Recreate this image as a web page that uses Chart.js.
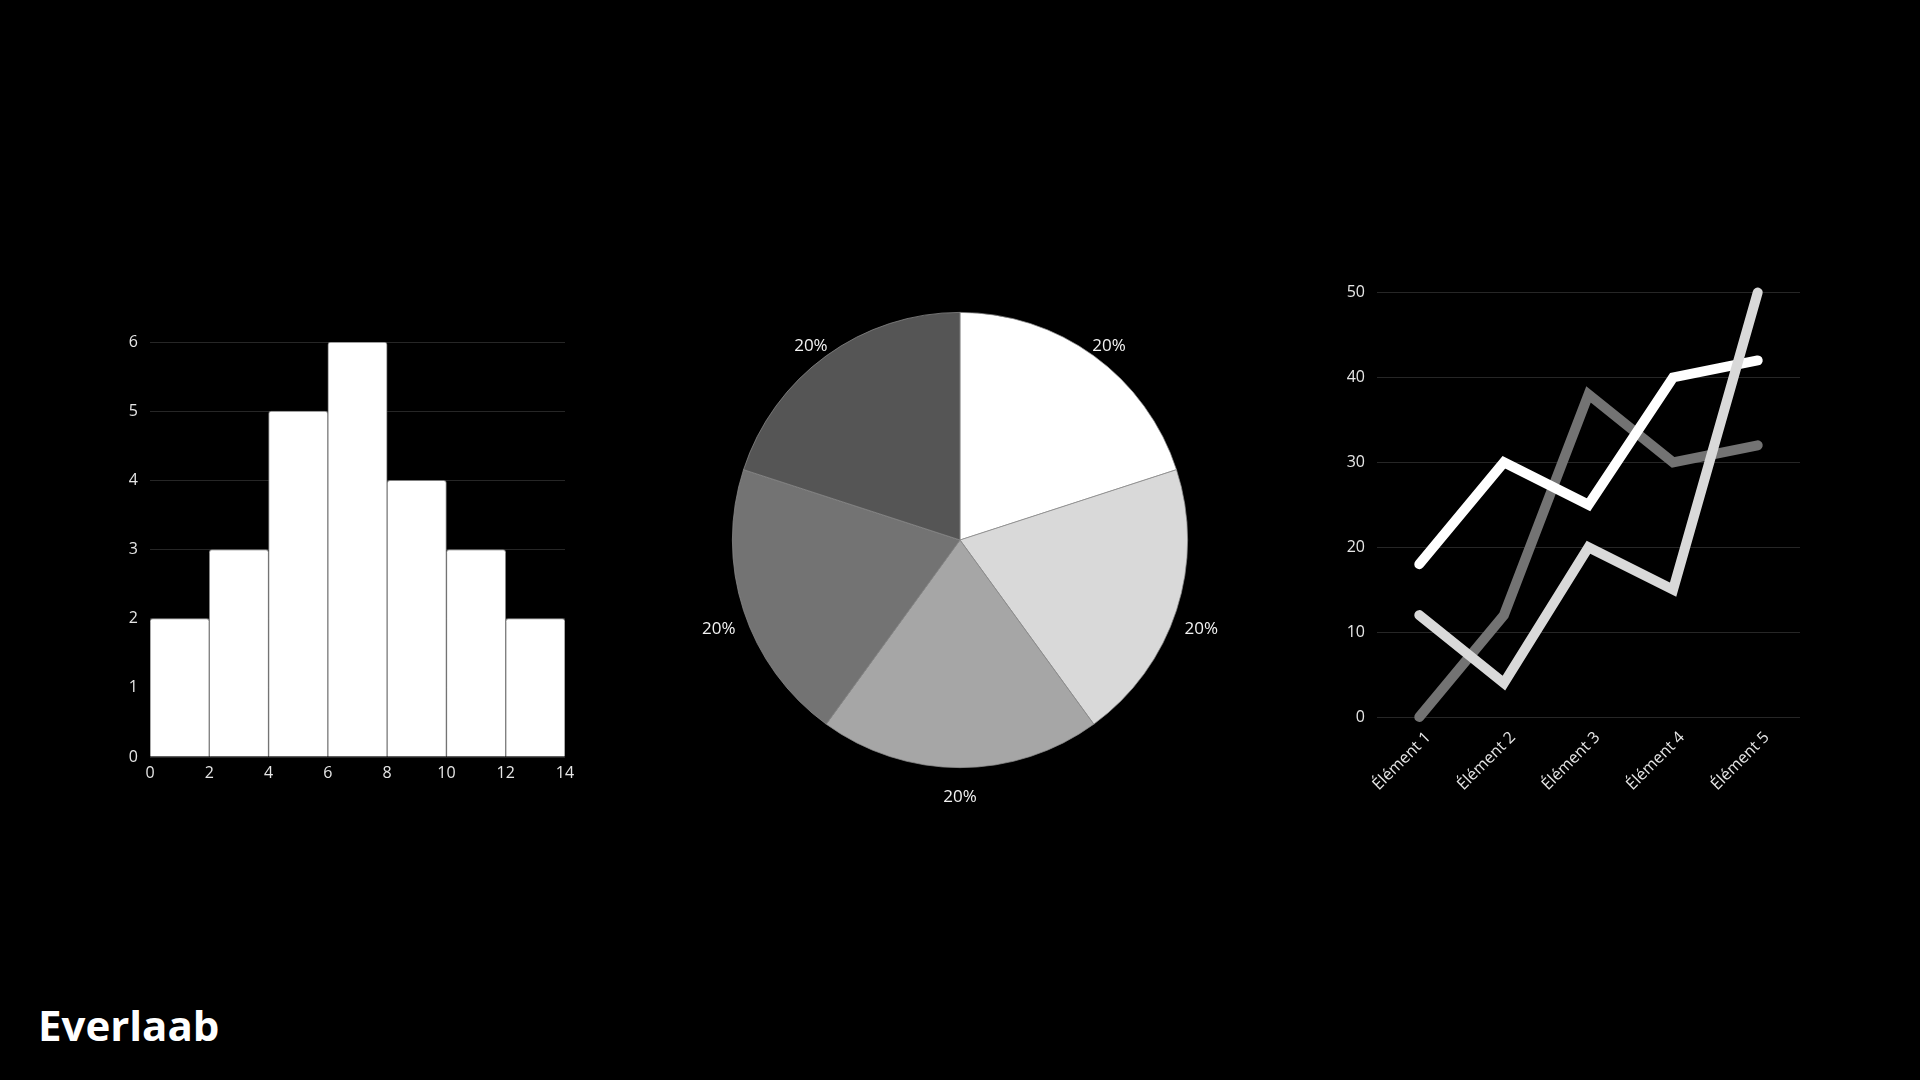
<!DOCTYPE html>
<html>
<head>
<meta charset="utf-8">
<script src="https://cdn.jsdelivr.net/npm/chart.js@4"></script>
<style>
  html, body { margin: 0; padding: 0; background: #000; }
  body { width: 1920px; height: 1080px; position: relative; overflow: hidden; font-family: "Open Sans", sans-serif; }
  .box { position: absolute; }
  #brand { position: absolute; left: 38px; top: 1004px; color: #fff; font-weight: 700; font-size: 42px; line-height: 42px; }
</style>
</head>
<body>
<div class="box" style="left:100px;top:320px;width:490px;height:490px"><canvas id="histo"></canvas></div>
<div class="box" style="left:680px;top:260px;width:560px;height:560px"><canvas id="pie"></canvas></div>
<div class="box" style="left:1320px;top:270px;width:500px;height:540px"><canvas id="lines"></canvas></div>
<div id="brand">Everlaab</div>
<script>
// histogram
const binEdges = [0, 2, 4, 6, 8, 10, 12, 14];
const binCounts = [2, 3, 5, 6, 4, 3, 2];

// pie
const pieLabels = ['A', 'B', 'C', 'D', 'E'];
const pieValues = [20, 20, 20, 20, 20];
const pieColors = ['#ffffff', '#d9d9d9', '#a6a6a6', '#737373', '#555555'];

// lines
const elements = ['Élément 1', 'Élément 2', 'Élément 3', 'Élément 4', 'Élément 5'];
const seriesWhite = [18, 30, 25, 40, 42];
const seriesLight = [12, 4, 20, 15, 50];
const seriesDark = [0, 12, 38, 30, 32];

Chart.defaults.font.family = '"Open Sans", sans-serif';
Chart.defaults.color = '#e6e6e6';
Chart.defaults.animation = false;
Chart.defaults.responsive = true;
Chart.defaults.maintainAspectRatio = false;
Chart.defaults.plugins.legend.display = false;
Chart.defaults.plugins.tooltip.enabled = false;

const gridCol = '#262626';

const histoPoints = binCounts.map((c, i) => ({ x: (binEdges[i] + binEdges[i + 1]) / 2, y: c }));

new Chart(document.getElementById('histo'), {
  type: 'bar',
  data: {
    datasets: [{
      data: histoPoints,
      backgroundColor: '#ffffff',
      borderColor: '#7f7f7f',
      borderWidth: 1,
      borderRadius: 3,
      barPercentage: 1,
      categoryPercentage: 1
    }]
  },
  options: {
    layout: { padding: { top: 22, right: 25, bottom: 0, left: 0 } },
    scales: {
      x: {
        type: 'linear', min: 0, max: 14, offset: false,
        ticks: { stepSize: 2, padding: 7, font: { size: 16 } },
        grid: { display: false, offset: false, drawTicks: false },
        border: { display: false },
        afterFit: (s) => { s.height = 53; }
      },
      y: {
        min: 0, max: 6,
        ticks: { stepSize: 1, padding: 12, font: { size: 16 } },
        grid: { color: gridCol, drawTicks: false },
        border: { display: false },
        afterFit: (s) => { s.width = 50; }
      }
    }
  }
});

// labels outside the slices
const outsideLabels = {
  id: 'outsideLabels',
  afterDatasetsDraw(chart) {
    const ctx = chart.ctx;
    const meta = chart.getDatasetMeta(0);
    const total = pieValues.reduce((a, b) => a + b, 0);
    ctx.save();
    ctx.font = '17px "Open Sans", sans-serif';
    ctx.fillStyle = '#f2f2f2';
    ctx.textAlign = 'center';
    ctx.textBaseline = 'middle';
    meta.data.forEach((arc, i) => {
      const p = arc.getProps(['x', 'y', 'startAngle', 'endAngle', 'outerRadius']);
      const mid = (p.startAngle + p.endAngle) / 2;
      const r = p.outerRadius + 26;
      const dy = 11 - 7 * Math.pow(Math.max(0, Math.sin(mid)), 4);
      const txt = Math.round(pieValues[i] / total * 100) + '%';
      ctx.fillText(txt, p.x + Math.cos(mid) * r, p.y + Math.sin(mid) * r + dy);
    });
    ctx.restore();
  }
};

new Chart(document.getElementById('pie'), {
  type: 'pie',
  data: {
    labels: pieLabels,
    datasets: [{
      data: pieValues,
      backgroundColor: pieColors,
      borderColor: '#8c8c8c',
      borderWidth: 0.75
    }]
  },
  options: {
    layout: { padding: 52 }
  },
  plugins: [outsideLabels]
});

new Chart(document.getElementById('lines'), {
  type: 'line',
  data: {
    labels: elements,
    datasets: [
      { data: seriesLight, borderColor: '#d9d9d9' },
      { data: seriesWhite, borderColor: '#ffffff' },
      { data: seriesDark, borderColor: '#737373' }
    ]
  },
  options: {
    layout: { padding: { top: 22.5, right: 20, bottom: 0, left: 0 } },
    datasets: { line: { clip: false } },
    elements: {
      line: { borderWidth: 10, borderCapStyle: 'round', tension: 0, fill: false },
      point: { radius: 0 }
    },
    scales: {
      x: {
        offset: true,
        ticks: { minRotation: 45, maxRotation: 45, padding: 11, labelOffset: 9, font: { size: 16 } },
        grid: { display: false, drawTicks: false },
        border: { display: false },
        afterFit: (s) => { s.height = 93; }
      },
      y: {
        min: 0, max: 50,
        ticks: { stepSize: 10, padding: 12, font: { size: 16 } },
        grid: { color: gridCol, drawTicks: false },
        border: { display: false },
        afterFit: (s) => { s.width = 57; }
      }
    }
  }
});
</script>
</body>
</html>
